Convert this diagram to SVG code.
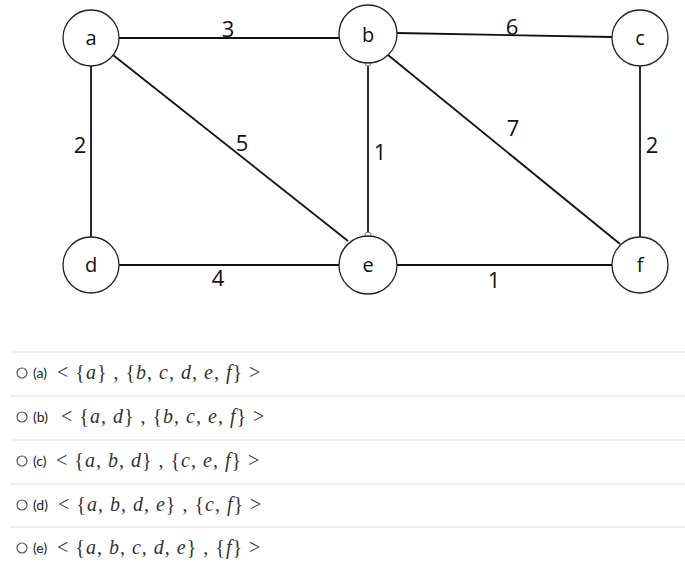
<svg xmlns="http://www.w3.org/2000/svg" width="685" height="571" viewBox="0 0 685 571">
<style>
.n{fill:#fff;stroke:#222;stroke-width:1.3}
.t{font-family:"Open Sans","Liberation Sans",sans-serif;font-size:20px;fill:#111;text-anchor:middle}
.w{font-family:"Open Sans","Liberation Sans",sans-serif;font-size:22px;fill:#111;text-anchor:middle}
.e{stroke:#111;stroke-width:1.8;fill:none}
.sep{stroke:#ddd;stroke-width:1}
.r{fill:#fff;stroke:#555;stroke-width:1.2}
.o{font-family:Lato,"Liberation Sans",sans-serif;font-size:14px;fill:#222}
.m{font-family:"Liberation Serif",serif;font-size:20px;fill:#333;letter-spacing:1px}
.m tspan.i{font-style:italic}
</style>
<rect width="685" height="571" fill="#fff"/>
<g id="connectors">
<line class="e" x1="119" y1="38" x2="339" y2="38"/>
<line class="e" x1="397" y1="33" x2="612" y2="37"/>
<line class="e" x1="640" y1="66" x2="640" y2="237"/>
<line class="e" x1="91" y1="66" x2="91" y2="237"/>
<line class="e" x1="113" y1="55" x2="348" y2="241"/>
<line class="e" x1="388" y1="55" x2="620" y2="244"/>
<line class="e" x1="368" y1="63" x2="368" y2="235"/>
<line class="e" x1="119" y1="265" x2="339" y2="265"/>
<line class="e" x1="397" y1="265" x2="612" y2="265"/>
<circle cx="368" cy="63" r="3" fill="#fff" stroke="#777"/>
<circle cx="368" cy="235" r="3" fill="#fff" stroke="#777"/>
<text class="w" x="228" y="37">3</text>
<text class="w" x="512" y="35">6</text>
<text class="w" x="80" y="153">2</text>
<text class="w" x="242" y="151">5</text>
<text class="w" x="380" y="160">1</text>
<text class="w" x="513" y="136">7</text>
<text class="w" x="652" y="153">2</text>
<text class="w" x="218" y="286">4</text>
<text class="w" x="494" y="288">1</text>
</g>
<g id="a"><circle class="n" cx="91" cy="38" r="28"/><text class="t" x="91" y="45">a</text></g>
<g id="b"><circle class="n" cx="368" cy="34" r="29"/><text class="t" x="368" y="42">b</text></g>
<g id="c"><circle class="n" cx="640" cy="38" r="28"/><text class="t" x="640" y="45">c</text></g>
<g id="d"><circle class="n" cx="91" cy="265" r="28"/><text class="t" x="91" y="272">d</text></g>
<g id="e"><circle class="n" cx="368" cy="265" r="29"/><text class="t" x="368" y="272">e</text></g>
<g id="f"><circle class="n" cx="640" cy="265" r="28"/><text class="t" x="640" y="272">f</text></g>
<g id="options">
<line class="sep" x1="10" y1="352" x2="685" y2="352"/>
<line class="sep" x1="10" y1="396" x2="685" y2="396"/>
<line class="sep" x1="10" y1="440" x2="685" y2="440"/>
<line class="sep" x1="10" y1="484" x2="685" y2="484"/>
<line class="sep" x1="10" y1="527" x2="685" y2="527"/>
<circle class="r" cx="22" cy="373" r="5"/><text class="o" x="33" y="378">(a)</text>
<text class="m" x="57" y="379">&lt; {<tspan class="i">a</tspan>} , {<tspan class="i">b</tspan>, <tspan class="i">c</tspan>, <tspan class="i">d</tspan>, <tspan class="i">e</tspan>, <tspan class="i">f</tspan>} &gt;</text>
<circle class="r" cx="22" cy="417" r="5"/><text class="o" x="33" y="422">(b)</text>
<text class="m" x="61" y="423">&lt; {<tspan class="i">a</tspan>, <tspan class="i">d</tspan>} , {<tspan class="i">b</tspan>, <tspan class="i">c</tspan>, <tspan class="i">e</tspan>, <tspan class="i">f</tspan>} &gt;</text>
<circle class="r" cx="22" cy="461" r="5"/><text class="o" x="33" y="466">(c)</text>
<text class="m" x="56" y="467">&lt; {<tspan class="i">a</tspan>, <tspan class="i">b</tspan>, <tspan class="i">d</tspan>} , {<tspan class="i">c</tspan>, <tspan class="i">e</tspan>, <tspan class="i">f</tspan>} &gt;</text>
<circle class="r" cx="22" cy="505" r="5"/><text class="o" x="33" y="510">(d)</text>
<text class="m" x="58" y="511">&lt; {<tspan class="i">a</tspan>, <tspan class="i">b</tspan>, <tspan class="i">d</tspan>, <tspan class="i">e</tspan>} , {<tspan class="i">c</tspan>, <tspan class="i">f</tspan>} &gt;</text>
<circle class="r" cx="22" cy="548" r="5"/><text class="o" x="33" y="553">(e)</text>
<text class="m" x="57" y="554">&lt; {<tspan class="i">a</tspan>, <tspan class="i">b</tspan>, <tspan class="i">c</tspan>, <tspan class="i">d</tspan>, <tspan class="i">e</tspan>} , {<tspan class="i">f</tspan>} &gt;</text>
</g>
</svg>
